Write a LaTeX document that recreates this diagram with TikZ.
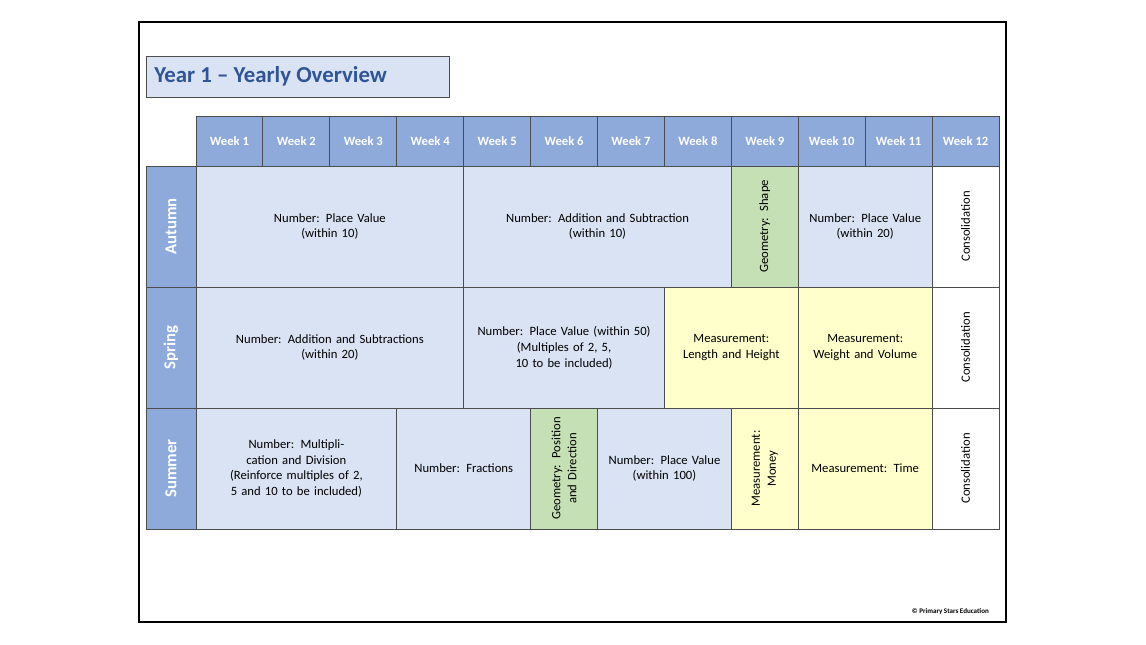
\documentclass[tikz,border=0pt]{standalone}
\usepackage{fontspec}
\setmainfont{Carlito}
\definecolor{headblue}{HTML}{8EAADB}
\definecolor{cellblue}{HTML}{DAE3F3}
\definecolor{cellgreen}{HTML}{C5E0B4}
\definecolor{cellyellow}{HTML}{FFFFCC}
\definecolor{titleblue}{HTML}{2F5597}
\newcommand{\wk}[1]{196+66.92*(#1)}
\tikzset{
  cell/.style={draw=black!70, line width=0.5pt, inner sep=1pt, align=center,
    font=\fontsize{7.2}{9}\selectfont},
  head/.style={cell, fill=headblue, text=white, font=\fontsize{7.2}{9}\selectfont\bfseries},
}
% \block{name}{first week}{last week}{row top}{colour}{rotate}{text}
\newcommand{\block}[7]{%
  \pgfmathsetmacro{\xa}{\wk{#2-1}}\pgfmathsetmacro{\xb}{\wk{#3}}%
  \pgfmathsetmacro{\xm}{(\xa+\xb)/2}\pgfmathsetmacro{\ym}{#4+60.5}%
  \pgfmathsetmacro{\tw}{#6==0 ? (\xb-\xa)*0.02-0.3 : 2.2}%
  \draw[draw=black!70, fill=#5] (\xa,#4) rectangle (\xb,#4+121);
  \node[cell, draw=none, rotate=#6, text width=\tw cm] (#1) at (\xm,\ym) {#7};}
\begin{document}
\begin{tikzpicture}[x=0.02cm, y=-0.02cm]
\useasboundingbox (0,0) rectangle (1146,645);
% frame
\draw[black, line width=1pt] (139,22) rectangle (1006,622);
% title
\draw[draw=black!70, fill=cellblue] (146,56) rectangle (449,97);
\node[anchor=west, inner sep=0pt, font=\fontsize{13}{15}\selectfont\bfseries, text=titleblue] (title) at (154,76.5)
  {Year 1 – Yearly Overview};
% week headers
\foreach \i in {1,...,12}
  \node[head, minimum width=66.92*0.02cm, minimum height=50*0.02cm] (week\i) at ({\wk{\i-0.5}},141) {Week \i};
% seasons
\foreach \s/\n [count=\r from 0] in {Autumn/autumn, Spring/spring, Summer/summer}
  \node[head, rotate=90, minimum width=121*0.02cm, minimum height=50*0.02cm,
    font=\fontsize{9.5}{11}\selectfont\bfseries] (\n) at (171,{226.5+121*\r}) {\s};
% autumn
\block{a1}{1}{4}{166}{cellblue}{0}{Number: Place Value\\(within 10)}
\block{a2}{5}{8}{166}{cellblue}{0}{Number: Addition and Subtraction\\(within 10)}
\block{a3}{9}{9}{166}{cellgreen}{90}{Geometry: Shape}
\block{a4}{10}{11}{166}{cellblue}{0}{Number: Place Value\\(within 20)}
\block{a5}{12}{12}{166}{white}{90}{Consolidation}
% spring
\block{b1}{1}{4}{287}{cellblue}{0}{Number: Addition and Subtractions\\(within 20)}
\block{b2}{5}{7}{287}{cellblue}{0}{Number: Place Value (within 50)\\(Multiples of 2, 5, 10 to be included)}
\block{b3}{8}{9}{287}{cellyellow}{0}{Measurement:\\Length and Height}
\block{b4}{10}{11}{287}{cellyellow}{0}{Measurement:\\Weight and Volume}
\block{b5}{12}{12}{287}{white}{90}{Consolidation}
% summer
\block{c1}{1}{3}{408}{cellblue}{0}{Number: Multiplication and Division\\(Reinforce multiples of 2, 5 and 10 to be included)}
\block{c2}{4}{5}{408}{cellblue}{0}{Number: Fractions}
\block{c3}{6}{6}{408}{cellgreen}{90}{Geometry: Position\\and Direction}
\block{c4}{7}{8}{408}{cellblue}{0}{Number: Place Value\\(within 100)}
\block{c5}{9}{9}{408}{cellyellow}{90}{Measurement:\\Money}
\block{c6}{10}{11}{408}{cellyellow}{0}{Measurement: Time}
\block{c7}{12}{12}{408}{white}{90}{Consolidation}
% footer
\node[anchor=east, font=\fontsize{4}{5}\selectfont\bfseries] (copy) at (995,612) {© Primary Stars Education};
\end{tikzpicture}
\end{document}
